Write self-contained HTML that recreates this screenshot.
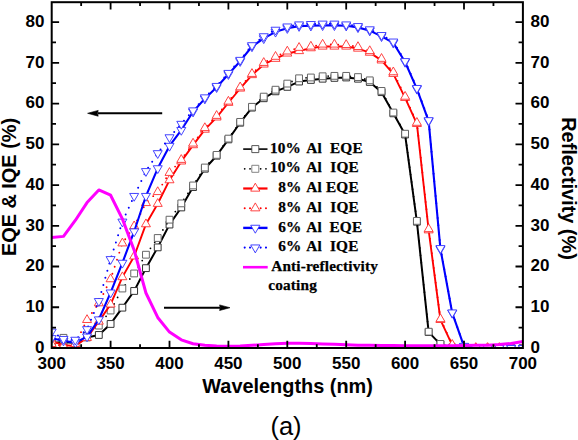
<!DOCTYPE html>
<html><head><meta charset="utf-8"><title>EQE IQE</title>
<style>
html,body{margin:0;padding:0;background:#fff;}
body{width:578px;height:440px;overflow:hidden;}
svg{display:block;}
.s{font-family:"Liberation Sans",sans-serif;}
.t{font-family:"Liberation Serif",serif;font-weight:bold;}
</style></head><body>
<svg width="578" height="440" viewBox="0 0 578 440">
<rect width="578" height="440" fill="#fff"/>
<g clip-path="url(#clip)">
<defs><clipPath id="clip"><rect x="51.7" y="2" width="471.20" height="346.00"/></clipPath></defs>
<polyline points="51.70,343.11 63.48,341.89 75.26,343.11 87.04,337.41 98.82,334.96 110.60,323.96 122.38,307.67 134.16,290.96 145.94,268.15 157.72,247.37 169.50,224.56 181.28,207.45 193.06,187.08 204.84,168.74 216.62,155.71 228.40,139.41 240.18,122.71 251.96,107.63 263.74,98.26 275.52,91.34 287.30,86.86 299.08,81.56 310.86,79.93 322.64,78.71 334.42,77.89 346.20,77.49 357.98,78.71 369.76,81.97 381.54,92.15 393.32,113.34 405.10,134.52 416.88,221.71 428.66,332.11 440.44,344.33 452.22,347.59 464.00,348.00 475.78,348.00 487.56,348.00 499.34,348.00 511.12,348.00 522.90,348.00" fill="none" stroke="#000" stroke-width="2.0" stroke-linejoin="round"/>
<path d="M48.30,339.71h6.8v6.8h-6.8ZM60.08,338.49h6.8v6.8h-6.8ZM71.86,339.71h6.8v6.8h-6.8ZM83.64,334.01h6.8v6.8h-6.8ZM95.42,331.56h6.8v6.8h-6.8ZM107.20,320.56h6.8v6.8h-6.8ZM118.98,304.27h6.8v6.8h-6.8ZM130.76,287.56h6.8v6.8h-6.8ZM142.54,264.75h6.8v6.8h-6.8ZM154.32,243.97h6.8v6.8h-6.8ZM166.10,221.16h6.8v6.8h-6.8ZM177.88,204.05h6.8v6.8h-6.8ZM189.66,183.68h6.8v6.8h-6.8ZM201.44,165.34h6.8v6.8h-6.8ZM213.22,152.31h6.8v6.8h-6.8ZM225.00,136.01h6.8v6.8h-6.8ZM236.78,119.31h6.8v6.8h-6.8ZM248.56,104.23h6.8v6.8h-6.8ZM260.34,94.86h6.8v6.8h-6.8ZM272.12,87.94h6.8v6.8h-6.8ZM283.90,83.46h6.8v6.8h-6.8ZM295.68,78.16h6.8v6.8h-6.8ZM307.46,76.53h6.8v6.8h-6.8ZM319.24,75.31h6.8v6.8h-6.8ZM331.02,74.49h6.8v6.8h-6.8ZM342.80,74.09h6.8v6.8h-6.8ZM354.58,75.31h6.8v6.8h-6.8ZM366.36,78.57h6.8v6.8h-6.8ZM378.14,88.75h6.8v6.8h-6.8ZM389.92,109.94h6.8v6.8h-6.8ZM401.70,131.12h6.8v6.8h-6.8ZM413.48,218.31h6.8v6.8h-6.8ZM425.26,328.71h6.8v6.8h-6.8ZM437.04,340.93h6.8v6.8h-6.8ZM448.82,344.19h6.8v6.8h-6.8ZM460.60,344.60h6.8v6.8h-6.8ZM472.38,344.60h6.8v6.8h-6.8ZM484.16,344.60h6.8v6.8h-6.8ZM495.94,344.60h6.8v6.8h-6.8ZM507.72,344.60h6.8v6.8h-6.8ZM519.50,344.60h6.8v6.8h-6.8Z" fill="#fff" stroke="#333" stroke-width="1.0"/>
<polyline points="51.70,341.89 63.48,337.81 75.26,343.11 87.04,335.78 98.82,325.59 110.60,310.52 122.38,288.52 134.16,273.45 145.94,254.71 157.72,238.00 169.50,219.67 181.28,203.37 193.06,185.45 204.84,167.52 216.62,154.89 228.40,138.60 240.18,121.89 251.96,106.82 263.74,96.63 275.52,89.71 287.30,83.60 299.08,78.30 310.86,77.49 322.64,76.26 334.42,75.86 346.20,75.86 357.98,77.08 369.76,80.34 381.54,90.93 393.32,112.52 405.10,133.71 416.88,220.89 428.66,331.70 440.44,343.93 452.22,347.59 464.00,348.00 475.78,348.00 487.56,348.00 499.34,348.00 511.12,348.00 522.90,348.00" fill="none" stroke="#000" stroke-width="1.8" stroke-dasharray="0 7.4" stroke-linecap="round"/>
<path d="M48.30,338.49h6.8v6.8h-6.8ZM60.08,334.42h6.8v6.8h-6.8ZM71.86,339.71h6.8v6.8h-6.8ZM83.64,332.38h6.8v6.8h-6.8ZM95.42,322.19h6.8v6.8h-6.8ZM107.20,307.12h6.8v6.8h-6.8ZM118.98,285.12h6.8v6.8h-6.8ZM130.76,270.05h6.8v6.8h-6.8ZM142.54,251.31h6.8v6.8h-6.8ZM154.32,234.60h6.8v6.8h-6.8ZM166.10,216.27h6.8v6.8h-6.8ZM177.88,199.97h6.8v6.8h-6.8ZM189.66,182.05h6.8v6.8h-6.8ZM201.44,164.12h6.8v6.8h-6.8ZM213.22,151.49h6.8v6.8h-6.8ZM225.00,135.20h6.8v6.8h-6.8ZM236.78,118.49h6.8v6.8h-6.8ZM248.56,103.42h6.8v6.8h-6.8ZM260.34,93.23h6.8v6.8h-6.8ZM272.12,86.31h6.8v6.8h-6.8ZM283.90,80.20h6.8v6.8h-6.8ZM295.68,74.90h6.8v6.8h-6.8ZM307.46,74.09h6.8v6.8h-6.8ZM319.24,72.86h6.8v6.8h-6.8ZM331.02,72.46h6.8v6.8h-6.8ZM342.80,72.46h6.8v6.8h-6.8ZM354.58,73.68h6.8v6.8h-6.8ZM366.36,76.94h6.8v6.8h-6.8ZM378.14,87.53h6.8v6.8h-6.8ZM389.92,109.12h6.8v6.8h-6.8ZM401.70,130.31h6.8v6.8h-6.8ZM413.48,217.49h6.8v6.8h-6.8ZM425.26,328.30h6.8v6.8h-6.8ZM437.04,340.53h6.8v6.8h-6.8ZM448.82,344.19h6.8v6.8h-6.8ZM460.60,344.60h6.8v6.8h-6.8ZM472.38,344.60h6.8v6.8h-6.8ZM484.16,344.60h6.8v6.8h-6.8ZM495.94,344.60h6.8v6.8h-6.8ZM507.72,344.60h6.8v6.8h-6.8ZM519.50,344.60h6.8v6.8h-6.8Z" fill="#fff" stroke="#666" stroke-width="1.0"/>
<polyline points="51.70,341.07 63.48,345.15 75.26,345.96 87.04,337.81 98.82,321.52 110.60,304.41 122.38,277.11 134.16,256.34 145.94,224.15 157.72,203.78 169.50,180.15 181.28,161.41 193.06,145.11 204.84,129.63 216.62,117.41 228.40,102.75 240.18,88.49 251.96,75.04 263.74,64.45 275.52,58.75 287.30,53.45 299.08,51.01 310.86,48.15 322.64,46.52 334.42,46.52 346.20,46.52 357.98,48.56 369.76,52.63 381.54,60.38 393.32,73.82 405.10,97.86 416.88,123.93 428.66,230.26 440.44,319.89 452.22,345.15 464.00,347.59 475.78,348.00 487.56,348.00 499.34,348.00 511.12,348.00 522.90,348.00" fill="none" stroke="#f00" stroke-width="1.9" stroke-linejoin="round"/>
<path d="M47.20,343.67L51.70,335.87L56.20,343.67ZM58.98,347.75L63.48,339.95L67.98,347.75ZM70.76,348.56L75.26,340.76L79.76,348.56ZM82.54,340.42L87.04,332.62L91.54,340.42ZM94.32,324.12L98.82,316.32L103.32,324.12ZM106.10,307.01L110.60,299.21L115.10,307.01ZM117.88,279.71L122.38,271.91L126.88,279.71ZM129.66,258.94L134.16,251.14L138.66,258.94ZM141.44,226.75L145.94,218.95L150.44,226.75ZM153.22,206.38L157.72,198.58L162.22,206.38ZM165.00,182.75L169.50,174.95L174.00,182.75ZM176.78,164.01L181.28,156.21L185.78,164.01ZM188.56,147.71L193.06,139.91L197.56,147.71ZM200.34,132.23L204.84,124.43L209.34,132.23ZM212.12,120.01L216.62,112.21L221.12,120.01ZM223.90,105.35L228.40,97.55L232.90,105.35ZM235.68,91.09L240.18,83.29L244.68,91.09ZM247.46,77.64L251.96,69.84L256.46,77.64ZM259.24,67.05L263.74,59.25L268.24,67.05ZM271.02,61.35L275.52,53.55L280.02,61.35ZM282.80,56.05L287.30,48.25L291.80,56.05ZM294.58,53.61L299.08,45.81L303.58,53.61ZM306.36,50.75L310.86,42.95L315.36,50.75ZM318.14,49.12L322.64,41.32L327.14,49.12ZM329.92,49.12L334.42,41.32L338.92,49.12ZM341.70,49.12L346.20,41.32L350.70,49.12ZM353.48,51.16L357.98,43.36L362.48,51.16ZM365.26,55.23L369.76,47.43L374.26,55.23ZM377.04,62.98L381.54,55.18L386.04,62.98ZM388.82,76.42L393.32,68.62L397.82,76.42ZM400.60,100.46L405.10,92.66L409.60,100.46ZM412.38,126.53L416.88,118.73L421.38,126.53ZM424.16,232.86L428.66,225.06L433.16,232.86ZM435.94,322.49L440.44,314.69L444.94,322.49ZM447.72,347.75L452.22,339.95L456.72,347.75ZM459.50,350.19L464.00,342.39L468.50,350.19ZM471.28,350.60L475.78,342.80L480.28,350.60ZM483.06,350.60L487.56,342.80L492.06,350.60ZM494.84,350.60L499.34,342.80L503.84,350.60ZM506.62,350.60L511.12,342.80L515.62,350.60ZM518.40,350.60L522.90,342.80L527.40,350.60Z" fill="#fff" stroke="#ff3030" stroke-width="0.9"/>
<polyline points="51.70,343.93 63.48,345.96 75.26,343.93 87.04,319.89 98.82,303.19 110.60,279.15 122.38,243.30 134.16,226.19 145.94,202.97 157.72,191.97 169.50,172.82 181.28,159.78 193.06,143.49 204.84,128.00 216.62,115.78 228.40,101.52 240.18,87.26 251.96,73.82 263.74,62.82 275.52,56.71 287.30,51.41 299.08,47.75 310.86,46.52 322.64,44.49 334.42,44.49 346.20,44.89 357.98,46.93 369.76,51.01 381.54,58.75 393.32,72.19 405.10,96.63 416.88,122.71 428.66,229.04 440.44,319.07 452.22,344.74 464.00,347.59 475.78,348.00 487.56,348.00 499.34,348.00 511.12,348.00 522.90,348.00" fill="none" stroke="#f00" stroke-width="1.9" stroke-dasharray="0 7.4" stroke-linecap="round"/>
<path d="M47.20,346.53L51.70,338.73L56.20,346.53ZM58.98,348.56L63.48,340.76L67.98,348.56ZM70.76,346.53L75.26,338.73L79.76,346.53ZM82.54,322.49L87.04,314.69L91.54,322.49ZM94.32,305.79L98.82,297.99L103.32,305.79ZM106.10,281.75L110.60,273.95L115.10,281.75ZM117.88,245.90L122.38,238.10L126.88,245.90ZM129.66,228.79L134.16,220.99L138.66,228.79ZM141.44,205.57L145.94,197.77L150.44,205.57ZM153.22,194.57L157.72,186.77L162.22,194.57ZM165.00,175.42L169.50,167.62L174.00,175.42ZM176.78,162.38L181.28,154.58L185.78,162.38ZM188.56,146.09L193.06,138.29L197.56,146.09ZM200.34,130.60L204.84,122.80L209.34,130.60ZM212.12,118.38L216.62,110.58L221.12,118.38ZM223.90,104.12L228.40,96.32L232.90,104.12ZM235.68,89.86L240.18,82.06L244.68,89.86ZM247.46,76.42L251.96,68.62L256.46,76.42ZM259.24,65.42L263.74,57.62L268.24,65.42ZM271.02,59.31L275.52,51.51L280.02,59.31ZM282.80,54.01L287.30,46.21L291.80,54.01ZM294.58,50.35L299.08,42.55L303.58,50.35ZM306.36,49.12L310.86,41.32L315.36,49.12ZM318.14,47.09L322.64,39.29L327.14,47.09ZM329.92,47.09L334.42,39.29L338.92,47.09ZM341.70,47.49L346.20,39.69L350.70,47.49ZM353.48,49.53L357.98,41.73L362.48,49.53ZM365.26,53.61L369.76,45.81L374.26,53.61ZM377.04,61.35L381.54,53.55L386.04,61.35ZM388.82,74.79L393.32,66.99L397.82,74.79ZM400.60,99.23L405.10,91.43L409.60,99.23ZM412.38,125.31L416.88,117.51L421.38,125.31ZM424.16,231.64L428.66,223.84L433.16,231.64ZM435.94,321.67L440.44,313.87L444.94,321.67ZM447.72,347.34L452.22,339.54L456.72,347.34ZM459.50,350.19L464.00,342.39L468.50,350.19ZM471.28,350.60L475.78,342.80L480.28,350.60ZM483.06,350.60L487.56,342.80L492.06,350.60ZM494.84,350.60L499.34,342.80L503.84,350.60ZM506.62,350.60L511.12,342.80L515.62,350.60ZM518.40,350.60L522.90,342.80L527.40,350.60Z" fill="#fff" stroke="#ff3030" stroke-width="0.9"/>
<polyline points="51.70,338.22 63.48,340.67 75.26,342.70 87.04,336.59 98.82,319.48 110.60,292.59 122.38,262.85 134.16,231.48 145.94,196.04 157.72,168.34 169.50,145.93 181.28,130.04 193.06,111.71 204.84,98.67 216.62,87.26 228.40,74.23 240.18,61.19 251.96,46.52 263.74,38.38 275.52,31.86 287.30,28.19 299.08,26.15 310.86,25.75 322.64,25.34 334.42,25.34 346.20,25.75 357.98,27.38 369.76,30.64 381.54,36.34 393.32,42.86 405.10,62.01 416.88,88.89 428.66,121.08 440.44,249.00 452.22,312.96 464.00,346.37 475.78,348.00 487.56,348.00 499.34,348.00 511.12,348.00 522.90,348.00" fill="none" stroke="#00f" stroke-width="2.1" stroke-linejoin="round"/>
<path d="M47.20,335.62L51.70,343.42L56.20,335.62ZM58.98,338.07L63.48,345.87L67.98,338.07ZM70.76,340.10L75.26,347.90L79.76,340.10ZM82.54,333.99L87.04,341.79L91.54,333.99ZM94.32,316.88L98.82,324.68L103.32,316.88ZM106.10,289.99L110.60,297.79L115.10,289.99ZM117.88,260.25L122.38,268.05L126.88,260.25ZM129.66,228.88L134.16,236.68L138.66,228.88ZM141.44,193.44L145.94,201.24L150.44,193.44ZM153.22,165.74L157.72,173.54L162.22,165.74ZM165.00,143.33L169.50,151.13L174.00,143.33ZM176.78,127.44L181.28,135.24L185.78,127.44ZM188.56,109.11L193.06,116.91L197.56,109.11ZM200.34,96.07L204.84,103.87L209.34,96.07ZM212.12,84.66L216.62,92.46L221.12,84.66ZM223.90,71.63L228.40,79.43L232.90,71.63ZM235.68,58.59L240.18,66.39L244.68,58.59ZM247.46,43.92L251.96,51.72L256.46,43.92ZM259.24,35.78L263.74,43.58L268.24,35.78ZM271.02,29.26L275.52,37.06L280.02,29.26ZM282.80,25.59L287.30,33.39L291.80,25.59ZM294.58,23.55L299.08,31.35L303.58,23.55ZM306.36,23.15L310.86,30.95L315.36,23.15ZM318.14,22.74L322.64,30.54L327.14,22.74ZM329.92,22.74L334.42,30.54L338.92,22.74ZM341.70,23.15L346.20,30.95L350.70,23.15ZM353.48,24.78L357.98,32.58L362.48,24.78ZM365.26,28.04L369.76,35.84L374.26,28.04ZM377.04,33.74L381.54,41.54L386.04,33.74ZM388.82,40.26L393.32,48.06L397.82,40.26ZM400.60,59.41L405.10,67.21L409.60,59.41ZM412.38,86.29L416.88,94.09L421.38,86.29ZM424.16,118.48L428.66,126.28L433.16,118.48ZM435.94,246.40L440.44,254.20L444.94,246.40ZM447.72,310.36L452.22,318.16L456.72,310.36ZM459.50,343.77L464.00,351.57L468.50,343.77ZM471.28,345.40L475.78,353.20L480.28,345.40ZM483.06,345.40L487.56,353.20L492.06,345.40ZM494.84,345.40L499.34,353.20L503.84,345.40ZM506.62,345.40L511.12,353.20L515.62,345.40ZM518.40,345.40L522.90,353.20L527.40,345.40Z" fill="#fff" stroke="#3030ff" stroke-width="0.9"/>
<polyline points="51.70,331.70 63.48,339.04 75.26,339.85 87.04,329.26 98.82,301.15 110.60,259.19 122.38,221.71 134.16,196.04 145.94,171.19 157.72,153.26 169.50,137.37 181.28,123.93 193.06,110.49 204.84,97.45 216.62,86.04 228.40,73.00 240.18,59.97 251.96,45.30 263.74,36.34 275.52,29.82 287.30,26.56 299.08,24.52 310.86,24.12 322.64,23.71 334.42,23.71 346.20,24.52 357.98,26.15 369.76,29.41 381.54,35.12 393.32,41.64 405.10,61.19 416.88,88.08 428.66,120.26 440.44,248.19 452.22,312.56 464.00,345.96 475.78,348.00 487.56,348.00 499.34,348.00 511.12,348.00 522.90,348.00" fill="none" stroke="#00f" stroke-width="2.0" stroke-dasharray="0 7.4" stroke-linecap="round"/>
<path d="M47.20,329.10L51.70,336.90L56.20,329.10ZM58.98,336.44L63.48,344.24L67.98,336.44ZM70.76,337.25L75.26,345.05L79.76,337.25ZM82.54,326.66L87.04,334.46L91.54,326.66ZM94.32,298.55L98.82,306.35L103.32,298.55ZM106.10,256.59L110.60,264.39L115.10,256.59ZM117.88,219.11L122.38,226.91L126.88,219.11ZM129.66,193.44L134.16,201.24L138.66,193.44ZM141.44,168.59L145.94,176.39L150.44,168.59ZM153.22,150.66L157.72,158.46L162.22,150.66ZM165.00,134.77L169.50,142.57L174.00,134.77ZM176.78,121.33L181.28,129.13L185.78,121.33ZM188.56,107.89L193.06,115.69L197.56,107.89ZM200.34,94.85L204.84,102.65L209.34,94.85ZM212.12,83.44L216.62,91.24L221.12,83.44ZM223.90,70.41L228.40,78.20L232.90,70.41ZM235.68,57.37L240.18,65.17L244.68,57.37ZM247.46,42.70L251.96,50.50L256.46,42.70ZM259.24,33.74L263.74,41.54L268.24,33.74ZM271.02,27.22L275.52,35.02L280.02,27.22ZM282.80,23.96L287.30,31.76L291.80,23.96ZM294.58,21.92L299.08,29.72L303.58,21.92ZM306.36,21.52L310.86,29.32L315.36,21.52ZM318.14,21.11L322.64,28.91L327.14,21.11ZM329.92,21.11L334.42,28.91L338.92,21.11ZM341.70,21.92L346.20,29.72L350.70,21.92ZM353.48,23.55L357.98,31.35L362.48,23.55ZM365.26,26.81L369.76,34.61L374.26,26.81ZM377.04,32.52L381.54,40.32L386.04,32.52ZM388.82,39.04L393.32,46.84L397.82,39.04ZM400.60,58.59L405.10,66.39L409.60,58.59ZM412.38,85.48L416.88,93.28L421.38,85.48ZM424.16,117.66L428.66,125.46L433.16,117.66ZM435.94,245.59L440.44,253.39L444.94,245.59ZM447.72,309.96L452.22,317.76L456.72,309.96ZM459.50,343.36L464.00,351.16L468.50,343.36ZM471.28,345.40L475.78,353.20L480.28,345.40ZM483.06,345.40L487.56,353.20L492.06,345.40ZM494.84,345.40L499.34,353.20L503.84,345.40ZM506.62,345.40L511.12,353.20L515.62,345.40ZM518.40,345.40L522.90,353.20L527.40,345.40Z" fill="#fff" stroke="#3030ff" stroke-width="0.9"/>
<polyline points="51.70,237.59 63.48,236.37 75.26,220.48 87.04,202.56 98.82,189.93 110.60,195.22 122.38,218.85 134.16,250.22 145.94,293.00 157.72,317.44 169.50,332.11 181.28,339.85 193.06,343.72 204.84,345.35 216.62,345.96 228.40,346.17 240.18,345.96 251.96,345.35 263.74,344.54 275.52,343.72 287.30,343.31 299.08,343.31 310.86,343.52 322.64,343.93 334.42,344.33 346.20,344.74 357.98,345.15 369.76,345.35 381.54,345.56 393.32,345.56 405.10,345.76 416.88,345.76 428.66,345.76 440.44,345.76 452.22,345.76 464.00,345.56 475.78,345.35 487.56,345.15 499.34,344.54 511.12,343.52 522.90,341.48" fill="none" stroke="#f0f" stroke-width="3" stroke-linejoin="round"/>
</g>
<rect x="51.7" y="2.2" width="471.20" height="345.80" fill="none" stroke="#000" stroke-width="2"/>
<path d="M81.15,348.0v-3.8M81.15,2.2v3.8M110.60,348.0v-7.2M110.60,2.2v7.2M140.05,348.0v-3.8M140.05,2.2v3.8M169.50,348.0v-7.2M169.50,2.2v7.2M198.95,348.0v-3.8M198.95,2.2v3.8M228.40,348.0v-7.2M228.40,2.2v7.2M257.85,348.0v-3.8M257.85,2.2v3.8M287.30,348.0v-7.2M287.30,2.2v7.2M316.75,348.0v-3.8M316.75,2.2v3.8M346.20,348.0v-7.2M346.20,2.2v7.2M375.65,348.0v-3.8M375.65,2.2v3.8M405.10,348.0v-7.2M405.10,2.2v7.2M434.55,348.0v-3.8M434.55,2.2v3.8M464.00,348.0v-7.2M464.00,2.2v7.2M493.45,348.0v-3.8M493.45,2.2v3.8M51.7,327.63h4.3M522.90,327.63h-4.3M51.7,307.26h7.4M522.90,307.26h-7.4M51.7,286.89h4.3M522.90,286.89h-4.3M51.7,266.52h7.4M522.90,266.52h-7.4M51.7,246.15h4.3M522.90,246.15h-4.3M51.7,225.78h7.4M522.90,225.78h-7.4M51.7,205.41h4.3M522.90,205.41h-4.3M51.7,185.04h7.4M522.90,185.04h-7.4M51.7,164.67h4.3M522.90,164.67h-4.3M51.7,144.30h7.4M522.90,144.30h-7.4M51.7,123.93h4.3M522.90,123.93h-4.3M51.7,103.56h7.4M522.90,103.56h-7.4M51.7,83.19h4.3M522.90,83.19h-4.3M51.7,62.82h7.4M522.90,62.82h-7.4M51.7,42.45h4.3M522.90,42.45h-4.3M51.7,22.08h7.4M522.90,22.08h-7.4" stroke="#000" stroke-width="1.8" fill="none"/>
<g class="s" font-weight="bold" font-size="17" fill="#000">
<text x="44.4" y="352.90" text-anchor="end">0</text>
<text x="530.6" y="352.90">0</text>
<text x="44.4" y="312.16" text-anchor="end">10</text>
<text x="530.6" y="312.16">10</text>
<text x="44.4" y="271.42" text-anchor="end">20</text>
<text x="530.6" y="271.42">20</text>
<text x="44.4" y="230.68" text-anchor="end">30</text>
<text x="530.6" y="230.68">30</text>
<text x="44.4" y="189.94" text-anchor="end">40</text>
<text x="530.6" y="189.94">40</text>
<text x="44.4" y="149.20" text-anchor="end">50</text>
<text x="530.6" y="149.20">50</text>
<text x="44.4" y="108.46" text-anchor="end">60</text>
<text x="530.6" y="108.46">60</text>
<text x="44.4" y="67.72" text-anchor="end">70</text>
<text x="530.6" y="67.72">70</text>
<text x="44.4" y="26.98" text-anchor="end">80</text>
<text x="530.6" y="26.98">80</text>
<text x="51.70" y="368.9" text-anchor="middle">300</text>
<text x="110.60" y="368.9" text-anchor="middle">350</text>
<text x="169.50" y="368.9" text-anchor="middle">400</text>
<text x="228.40" y="368.9" text-anchor="middle">450</text>
<text x="287.30" y="368.9" text-anchor="middle">500</text>
<text x="346.20" y="368.9" text-anchor="middle">550</text>
<text x="405.10" y="368.9" text-anchor="middle">600</text>
<text x="464.00" y="368.9" text-anchor="middle">650</text>
<text x="522.90" y="368.9" text-anchor="middle">700</text>
</g>
<g class="s" font-weight="bold" font-size="19.9" fill="#000">
<text x="287.6" y="392.8" text-anchor="middle">Wavelengths (nm)</text>
<text transform="translate(15.6,187) rotate(-90)" text-anchor="middle">EQE &amp; IQE (%)</text>
<text transform="translate(562.3,188.5) rotate(90)" text-anchor="middle">Reflectivity (%)</text>
</g>
<path d="M98,113.3H162.2" stroke="#000" stroke-width="2"/>
<path d="M87.6,113.3L98.2,110.4L97.6,113.3L98.2,116.2Z" fill="#000" stroke="#000" stroke-width="0.6" stroke-linejoin="round"/>
<path d="M164,307.7H220" stroke="#000" stroke-width="2"/>
<path d="M230,307.7L219.6,304.9L220.2,307.7L219.6,310.5Z" fill="#000" stroke="#000" stroke-width="0.6" stroke-linejoin="round"/>
<path d="M243.2,149.1H267.5" stroke="#000" stroke-width="1.6"/>
<path d="M251.80,145.60h7v7h-7Z" fill="#fff" stroke="#444" stroke-width="0.9"/>
<path d="M244.7,168.8H266" stroke="#000" stroke-width="1.8" stroke-dasharray="0 5.32" stroke-linecap="round"/>
<path d="M251.80,165.30h7v7h-7Z" fill="#fff" stroke="#777" stroke-width="0.9"/>
<path d="M243.2,188.5H267.5" stroke="#f00" stroke-width="2.2"/>
<path d="M250.71,191.15L255.30,183.20L259.89,191.15Z" fill="#fff" stroke="#ff3030" stroke-width="0.9"/>
<path d="M244.7,208.2H266" stroke="#f00" stroke-width="2.0" stroke-dasharray="0 5.32" stroke-linecap="round"/>
<path d="M250.71,210.85L255.30,202.90L259.89,210.85Z" fill="#fff" stroke="#ff3030" stroke-width="0.9"/>
<path d="M243.2,227.9H267.5" stroke="#00f" stroke-width="2.4"/>
<path d="M250.71,225.25L255.30,233.20L259.89,225.25Z" fill="#fff" stroke="#3030ff" stroke-width="0.9"/>
<path d="M244.7,247.6H266" stroke="#00f" stroke-width="2.1" stroke-dasharray="0 5.32" stroke-linecap="round"/>
<path d="M250.71,244.95L255.30,252.90L259.89,244.95Z" fill="#fff" stroke="#3030ff" stroke-width="0.9"/>
<path d="M243,267.2H267.7" stroke="#f0f" stroke-width="2.6"/>
<g class="t" font-size="15.3" letter-spacing="0.15" fill="#000" stroke="#000" stroke-width="0.25">
<text x="270.0" y="152.70">10%</text>
<text x="306.2" y="152.70">Al</text>
<text x="330.0" y="152.70">EQE</text>
<text x="270.0" y="172.40">10%</text>
<text x="306.2" y="172.40">Al</text>
<text x="330.3" y="172.40">IQE</text>
<text x="278.3" y="192.10">8%</text>
<text x="306.2" y="192.10">Al</text>
<text x="326.0" y="192.10">EQE</text>
<text x="278.3" y="211.80">8%</text>
<text x="306.2" y="211.80">Al</text>
<text x="330.3" y="211.80">IQE</text>
<text x="278.3" y="231.50">6%</text>
<text x="306.2" y="231.50">Al</text>
<text x="329.5" y="231.50">EQE</text>
<text x="278.3" y="251.20">6%</text>
<text x="306.2" y="251.20">Al</text>
<text x="330.0" y="251.20">IQE</text>
<text x="271.2" y="270.6">Anti-reflectivity</text>
<text x="268.3" y="289.7">coating</text>
</g>
<text class="s" x="286" y="434.8" font-size="25.5" text-anchor="middle" fill="#000">(a)</text>
</svg>
</body></html>
